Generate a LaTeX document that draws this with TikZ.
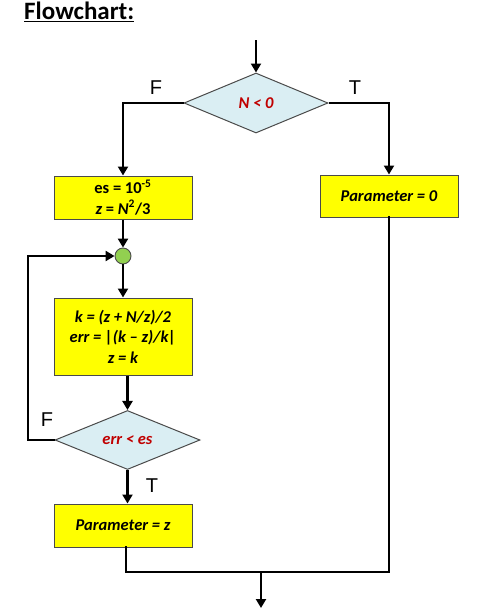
\documentclass[tikz,border=0pt]{standalone}
\usepackage{fontspec}
\setmainfont{Carlito}
\newfontfamily\arialf{Liberation Sans}
\usetikzlibrary{shapes.geometric,arrows.meta}
\definecolor{boxyellow}{HTML}{FFFF00}
\definecolor{diafill}{HTML}{DAEEF3}
\definecolor{diared}{HTML}{C00000}
\definecolor{dotgreen}{HTML}{92D050}
\definecolor{edgegray}{HTML}{4A4A4A}
\tikzset{
  procbox/.style={rectangle, draw=edgegray, line width=1pt, fill=boxyellow, inner sep=0pt,
    minimum width=138pt, align=center, font=\fontsize{16.5}{20.5}\selectfont\bfseries\itshape},
  decision/.style={diamond, draw=edgegray, line width=1pt, fill=diafill, inner sep=0pt,
    font=\fontsize{16.5}{20}\selectfont\bfseries\itshape, text=diared},
  joindot/.style={circle, draw=edgegray, line width=0.9pt, fill=dotgreen, minimum size=16pt, inner sep=0pt},
  flowline/.style={line width=2.8pt, black},
  arr/.style={flowline, -{Triangle[width=10pt,length=9pt]}},
  tflabel/.style={font=\arialf\fontsize{20}{20}\selectfont, inner sep=0pt}
}
\begin{document}
\begin{tikzpicture}[x=1pt,y=-1pt]
\useasboundingbox (0,0) rectangle (496,611);
\node[anchor=north west, inner sep=0pt, font=\fontsize{25}{28}\selectfont\bfseries] (title) at (24,2) {\underline{Flowchart:}};

\coordinate (start) at (256,40);
\node[decision, minimum width=144pt, minimum height=60pt] (d1) at (256,103) {N < 0};
\node[procbox, minimum height=43pt] (b1) at (123,197.5) {\upshape es = 10\textsuperscript{-5}\\ \upshape\textit{z} = \textit{N}\textsuperscript{2}/3};
\node[joindot] (dot) at (123,256) {};
\node[procbox, minimum height=77pt] (b2) at (123,336.5) {k = (z + N/z)/2\\ err = |(k -- z)/k|\\ z = k};
\node[decision, minimum width=145pt, minimum height=58pt] (d2) at (127.5,440) {err < es};
\node[procbox, minimum height=43pt] (b3) at (123,525.5) {Parameter = z};
\node[procbox, minimum height=42pt] (b4) at (389,196) {Parameter = 0};

\node[tflabel] (lf1) at (156,88) {F};
\node[tflabel] (lt1) at (355,88) {T};
\node[tflabel] (lf2) at (47,420) {F};
\node[tflabel] (lt2) at (152,486) {T};

\coordinate (loopbot) at (28,440);
\coordinate (looptop) at (28,256);
\coordinate (joinR) at (389,572);
\coordinate (joinL) at (126,572);
\coordinate (joinM) at (261,572);
\coordinate (endpt) at (261,608);

\draw[arr] (start) -- (d1.north);
\draw[arr] (d1.west) -| (b1.north);
\draw[arr] (d1.east) -| (b4.north);
\draw[arr] (b1.south) -- (dot.north);
\draw[arr] (dot.south) -- (b2.north);
\draw[arr] (b2.south -| d2.north) -- (d2.north);
\draw[arr] (d2.west) -- (loopbot) -- (looptop) -- (dot.west);
\draw[arr] (d2.south) -- (b3.north -| d2.south);
\draw[flowline, line cap=rect] (b4.south) -- (joinR) -- (joinL) -- (b3.south -| joinL);
\draw[arr] (joinM) -- (endpt);
\end{tikzpicture}
\end{document}
